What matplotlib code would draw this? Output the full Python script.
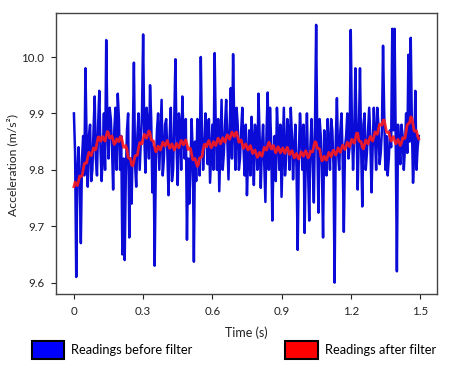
import matplotlib
matplotlib.use("Agg")
import matplotlib.pyplot as plt
from matplotlib.patches import Patch

plt.rcParams['font.family'] = ['Lato', 'DejaVu Sans']

# Time axis (s), 200 Hz samples
time_s = [i * 0.005 for i in range(300)]

# Raw accelerometer readings (m/s^2)
raw_readings = [
    9.90, 9.83, 9.61, 9.80, 9.84, 9.78, 9.67, 9.82, 9.86, 9.79, 9.98, 9.85, 9.77, 9.86, 9.88, 9.78, 9.80, 9.87, 9.93, 9.82,
    9.79, 9.88, 9.94, 9.84, 9.78, 9.83, 9.90, 9.80, 10.03, 9.88, 9.82, 9.91, 9.89, 9.84, 9.765, 9.87, 9.91, 9.80, 9.935, 9.89,
    9.80, 9.86, 9.65, 9.82, 9.64, 9.79, 9.87, 9.90, 9.68, 9.82, 9.74, 9.85, 9.99, 9.81, 9.77, 9.86, 9.90, 9.80, 9.85, 9.90,
    10.04, 9.86, 9.795, 9.91, 9.88, 9.82, 9.95, 9.89, 9.76, 9.84, 9.63, 9.81, 9.87, 9.90, 9.80, 9.86, 9.924, 9.79, 9.82, 9.88,
    9.89, 9.83, 9.755, 9.86, 9.91, 9.78, 9.80, 9.89, 9.996, 9.84, 9.773, 9.90, 9.88, 9.80, 9.93, 9.86, 9.82, 9.89, 9.676, 9.82,
    9.74, 9.80, 9.89, 9.83, 9.637, 9.85, 9.78, 9.89, 9.86, 9.79, 10.0, 9.86, 9.80, 9.84, 9.90, 9.87, 9.81, 9.89, 9.777, 9.83,
    9.88, 9.80, 10.007, 9.87, 9.80, 9.89, 9.762, 9.84, 9.924, 9.80, 9.83, 9.88, 9.924, 9.85, 9.783, 9.87, 9.945, 9.82, 10.005, 9.88,
    9.80, 9.91, 9.88, 9.80, 9.82, 9.87, 9.91, 9.84, 9.79, 9.88, 9.755, 9.82, 9.87, 9.79, 9.894, 9.85, 9.773, 9.88, 9.86, 9.80,
    9.935, 9.86, 9.768, 9.84, 9.88, 9.81, 9.743, 9.87, 9.937, 9.80, 9.91, 9.85, 9.71, 9.82, 9.86, 9.78, 9.91, 9.86, 9.80, 9.88,
    9.752, 9.83, 9.91, 9.79, 9.82, 9.89, 9.87, 9.80, 9.91, 9.86, 9.783, 9.84, 9.88, 9.80, 9.658, 9.83, 9.90, 9.86, 9.80, 9.88,
    9.688, 9.82, 9.90, 9.80, 9.71, 9.84, 9.89, 9.82, 9.742, 9.88, 10.057, 9.85, 9.724, 9.89, 9.86, 9.80, 9.68, 9.87, 9.84, 9.79,
    9.89, 9.84, 9.80, 9.89, 9.87, 9.81, 9.60, 9.85, 9.927, 9.83, 9.80, 9.87, 9.90, 9.82, 9.69, 9.84, 9.86, 9.90, 9.82, 9.84,
    10.048, 9.88, 9.80, 9.86, 9.98, 9.88, 9.765, 9.86, 9.98, 9.84, 9.735, 9.88, 9.90, 9.80, 9.83, 9.87, 9.91, 9.85, 9.76, 9.84,
    9.91, 9.86, 9.80, 9.91, 9.88, 9.81, 9.83, 9.87, 10.02, 9.90, 9.80, 9.86, 9.79, 9.82, 9.87, 9.84, 10.05, 9.87, 10.05, 9.85,
    9.62, 9.88, 9.84, 9.81, 9.88, 9.86, 9.80, 9.84, 9.90, 9.83, 10.004, 9.85, 10.034, 9.88, 9.777, 9.83, 9.94, 9.80, 9.84, 9.86,
]

# Filtered readings (m/s^2)
filtered_readings = [
    9.770, 9.778, 9.775, 9.772, 9.780, 9.789, 9.788, 9.789, 9.800, 9.811, 9.812, 9.812, 9.823, 9.831, 9.828, 9.825, 9.832, 9.839, 9.835, 9.836,
    9.848, 9.858, 9.858, 9.851, 9.855, 9.859, 9.853, 9.851, 9.860, 9.868, 9.865, 9.856, 9.858, 9.860, 9.852, 9.845, 9.848, 9.855, 9.852, 9.850,
    9.858, 9.859, 9.850, 9.840, 9.840, 9.843, 9.835, 9.822, 9.820, 9.820, 9.809, 9.807, 9.815, 9.825, 9.825, 9.826, 9.838, 9.848, 9.848, 9.846,
    9.855, 9.863, 9.860, 9.856, 9.862, 9.869, 9.865, 9.853, 9.852, 9.851, 9.840, 9.832, 9.835, 9.842, 9.838, 9.835, 9.842, 9.849, 9.846, 9.842,
    9.848, 9.852, 9.845, 9.838, 9.842, 9.846, 9.840, 9.835, 9.840, 9.847, 9.843, 9.839, 9.846, 9.852, 9.848, 9.844, 9.850, 9.853, 9.845, 9.836,
    9.838, 9.838, 9.828, 9.818, 9.818, 9.820, 9.812, 9.806, 9.810, 9.821, 9.822, 9.823, 9.835, 9.845, 9.845, 9.841, 9.848, 9.852, 9.845, 9.839,
    9.843, 9.850, 9.846, 9.843, 9.850, 9.856, 9.852, 9.846, 9.850, 9.857, 9.853, 9.849, 9.856, 9.862, 9.858, 9.854, 9.860, 9.867, 9.863, 9.859,
    9.865, 9.867, 9.858, 9.849, 9.850, 9.853, 9.845, 9.838, 9.842, 9.846, 9.840, 9.835, 9.840, 9.843, 9.836, 9.829, 9.832, 9.835, 9.828, 9.822,
    9.826, 9.831, 9.826, 9.824, 9.832, 9.840, 9.838, 9.835, 9.843, 9.849, 9.845, 9.837, 9.840, 9.843, 9.836, 9.830, 9.835, 9.841, 9.836, 9.830,
    9.835, 9.839, 9.833, 9.829, 9.836, 9.840, 9.834, 9.827, 9.830, 9.834, 9.828, 9.821, 9.825, 9.829, 9.823, 9.819, 9.825, 9.832, 9.828, 9.824,
    9.830, 9.834, 9.828, 9.821, 9.824, 9.833, 9.832, 9.832, 9.842, 9.850, 9.848, 9.838, 9.838, 9.837, 9.825, 9.816, 9.818, 9.824, 9.820, 9.817,
    9.824, 9.831, 9.827, 9.823, 9.830, 9.835, 9.830, 9.826, 9.832, 9.839, 9.835, 9.831, 9.838, 9.844, 9.840, 9.836, 9.842, 9.849, 9.845, 9.841,
    9.848, 9.854, 9.850, 9.847, 9.855, 9.865, 9.865, 9.852, 9.850, 9.850, 9.840, 9.837, 9.845, 9.853, 9.850, 9.846, 9.853, 9.859, 9.855, 9.851,
    9.858, 9.867, 9.865, 9.863, 9.872, 9.881, 9.880, 9.879, 9.888, 9.888, 9.878, 9.867, 9.866, 9.867, 9.858, 9.851, 9.855, 9.859, 9.852, 9.846,
    9.850, 9.854, 9.848, 9.843, 9.848, 9.857, 9.855, 9.856, 9.868, 9.880, 9.882, 9.883, 9.894, 9.892, 9.880, 9.869, 9.868, 9.869, 9.860, 9.855,
]

x_ticks = [0, 0.3, 0.6, 0.9, 1.2, 1.5]
x_tick_labels = ["0", "0.3", "0.6", "0.9", "1.2", "1.5"]
y_ticks = [9.6, 9.7, 9.8, 9.9, 10.0]
y_tick_labels = ["9.6", "9.7", "9.8", "9.9", "10.0"]
legend_labels = ["Readings before filter", "Readings after filter"]

fig = plt.figure(figsize=(4.74, 3.72), dpi=100)
ax = fig.add_axes([0.118, 0.210, 0.804, 0.755])

ax.plot(time_s, raw_readings, color='#0b0bd8', lw=1.8, zorder=2)
ax.plot(time_s, filtered_readings, color='#ff1a1a', lw=2.0, alpha=0.9, zorder=3)

ax.set_xlim(-0.078, 1.574)
ax.set_ylim(9.58, 10.078)
ax.set_xticks(x_ticks)
ax.set_xticklabels(x_tick_labels)
ax.set_yticks(y_ticks)
ax.set_yticklabels(y_tick_labels)
ax.tick_params(labelsize=8.3, colors='#222222', length=3.5, width=0.8, pad=5)
for s in ax.spines.values():
    s.set_color('#444444')
    s.set_linewidth(1.0)

ax.set_xlabel("Time (s)", fontsize=9, color='#222222', labelpad=7)
ax.set_ylabel("Acceleration (m/s²)", fontsize=8.8, color='#222222')
ax.yaxis.set_label_coords(-0.098, 0.46)

handles = [Patch(facecolor='#0000ff', edgecolor='black', lw=1.5),
           Patch(facecolor='#ff0000', edgecolor='black', lw=1.5)]
fig.legend(handles, legend_labels, loc='lower left', bbox_to_anchor=(0.042, 0.005),
           ncol=2, frameon=False, fontsize=9.3, handlelength=2.55, handleheight=1.7,
           handletextpad=0.5, columnspacing=7.2)

fig.savefig("out.png", dpi=100)
